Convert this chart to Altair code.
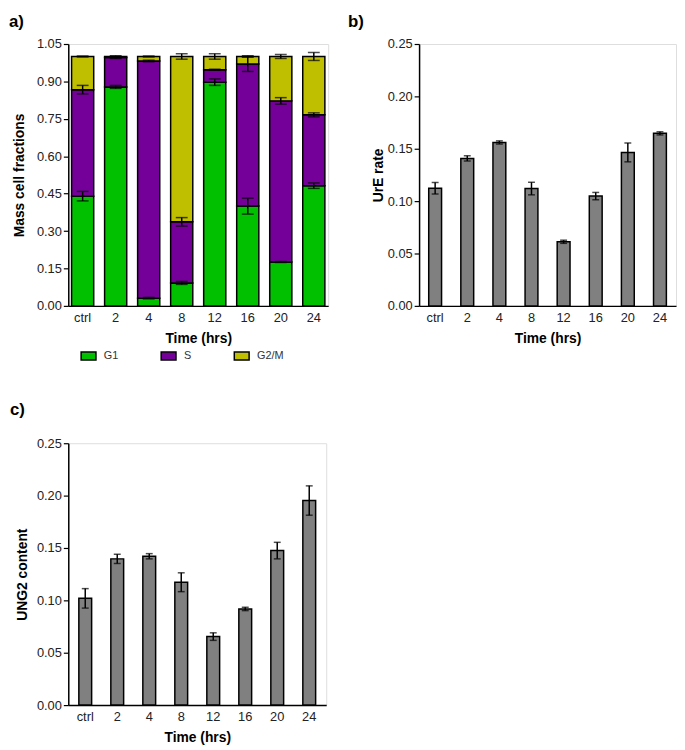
import altair as alt
import pandas as pd

times = ["ctrl", "2", "4", "8", "12", "16", "20", "24"]
phases = ["G1", "S", "G2/M"]
phase_colors = ["#00C000", "#740099", "#BFBF00"]

# panel a: mass cell fractions (stacked)
g1 = [0.440, 0.878, 0.031, 0.092, 0.897, 0.400, 0.176, 0.482]
s_ph = [0.427, 0.118, 0.951, 0.245, 0.050, 0.570, 0.646, 0.284]
g2m = [0.133, 0.004, 0.018, 0.663, 0.053, 0.030, 0.178, 0.234]
g1_err = [0.019, 0.006, 0.003, 0.006, 0.013, 0.032, 0.002, 0.011]
s_err = [0.017, 0.004, 0.003, 0.017, 0.002, 0.030, 0.013, 0.008]
g2m_err = [0.002, 0.003, 0.002, 0.011, 0.011, 0.003, 0.008, 0.016]

# panel b: UrE rate
ure = [0.1123, 0.1408, 0.1560, 0.1120, 0.0612, 0.1048, 0.1465, 0.1647]
ure_err = [0.0055, 0.0025, 0.0015, 0.0060, 0.0015, 0.0035, 0.0090, 0.0015]

# panel c: UNG2 content
ung2 = [0.1019, 0.1396, 0.1421, 0.1173, 0.0654, 0.0918, 0.1475, 0.1953]
ung2_err = [0.0093, 0.0044, 0.0025, 0.0090, 0.0036, 0.0016, 0.0079, 0.0140]

ya_ticks = [0, 0.15, 0.30, 0.45, 0.60, 0.75, 0.90, 1.05]
ybc_ticks = [0, 0.05, 0.10, 0.15, 0.20, 0.25]

FONT = "Liberation Sans"

rows = []
for i, t in enumerate(times):
    top = 0.0
    for k, (vals, errs) in enumerate([(g1, g1_err), (s_ph, s_err), (g2m, g2m_err)]):
        start = top
        top += vals[i]
        rows.append({"time": t, "phase": phases[k], "ord": k, "start": start, "end": top,
                     "lo": top - errs[i], "hi": top + errs[i]})
df_a = pd.DataFrame(rows)

def simple_df(vals, errs):
    return pd.DataFrame({"time": times, "value": vals,
                         "lo": [v - e for v, e in zip(vals, errs)],
                         "hi": [v + e for v, e in zip(vals, errs)]})

df_b = simple_df(ure, ure_err)
df_c = simple_df(ung2, ung2_err)

def x_axis():
    return alt.Axis(title="Time (hrs)", labelAngle=0, ticks=False, labelPadding=6,
                    titlePadding=7, domainColor="black", domainWidth=1.5,
                    labelFontSize=13, titleFontSize=14, titleFontWeight="bold",
                    labelColor="#222", titleColor="black", labelFont=FONT, titleFont=FONT)

def y_axis(title, values, tpad):
    return alt.Axis(title=title, values=values, format=".2f", grid=False,
                    labelOverlap=False, labelBound=False,
                    tickSize=5, tickColor="black", tickWidth=1.2, labelPadding=2,
                    domainColor="black", domainWidth=1.5, titlePadding=tpad,
                    labelFontSize=13, titleFontSize=14, titleFontWeight="bold",
                    labelColor="#222", titleColor="black", labelFont=FONT, titleFont=FONT)

def panel_label(txt, dx, dy):
    return alt.Chart(pd.DataFrame({"t": [txt]})).mark_text(
        align="left", baseline="top", fontSize=17, fontWeight="bold", font=FONT, color="black"
    ).encode(x=alt.value(dx), y=alt.value(dy), text="t:N")

# ---- panel a
ax_a = y_axis("Mass cell fractions", ya_ticks, 10)
sc_a = alt.Scale(domain=[0, 1.05], nice=False)
xa = alt.X("time:N", sort=times, scale=alt.Scale(paddingInner=0.33, paddingOuter=0.1), axis=x_axis())
bars_a = alt.Chart(df_a).mark_bar(stroke="black", strokeWidth=1.5).encode(
    x=xa,
    y=alt.Y("start:Q", scale=sc_a, axis=ax_a),
    y2="end:Q",
    color=alt.Color("phase:N", scale=alt.Scale(domain=phases, range=phase_colors),
                    legend=alt.Legend(title=None, orient="none", legendX=12, legendY=307,
                                      direction="horizontal", columnPadding=40, labelOffset=7,
                                      symbolType="M-1,-0.53H1V0.53H-1Z", symbolSize=225,
                                      symbolStrokeColor="black", symbolStrokeWidth=1.5,
                                      labelFontSize=11, labelFont=FONT, labelColor="#333",
                                      padding=0)),
)
rule_a = alt.Chart(df_a).mark_rule(color="black", strokeWidth=1.5).encode(
    x=alt.X("time:N", sort=times), y=alt.Y("lo:Q", scale=sc_a, axis=ax_a), y2="hi:Q")
caplo_a = alt.Chart(df_a).mark_tick(color="black", thickness=1.5, size=12).encode(
    x=alt.X("time:N", sort=times), y=alt.Y("lo:Q", scale=sc_a, axis=ax_a))
caphi_a = alt.Chart(df_a).mark_tick(color="black", thickness=1.5, size=12).encode(
    x=alt.X("time:N", sort=times), y=alt.Y("hi:Q", scale=sc_a, axis=ax_a))
chart_a = alt.layer(bars_a, rule_a, caplo_a, caphi_a, panel_label("a)", -60, -30)).properties(
    width=263, height=265)

# ---- panels b, c
def bar_panel(df, title, tpad, po, label, ldx, ldy):
    ax = y_axis(title, ybc_ticks, tpad)
    sc = alt.Scale(domain=[0, 0.25], nice=False)
    xb = alt.X("time:N", sort=times, scale=alt.Scale(paddingInner=0.6, paddingOuter=po), axis=x_axis())
    bars = alt.Chart(df).mark_bar(color="#808080", stroke="black", strokeWidth=1.5).encode(
        x=xb, y=alt.Y("value:Q", scale=sc, axis=ax))
    rule = alt.Chart(df).mark_rule(color="black", strokeWidth=1.5).encode(
        x=alt.X("time:N", sort=times), y=alt.Y("lo:Q", scale=sc, axis=ax), y2="hi:Q")
    clo = alt.Chart(df).mark_tick(color="black", thickness=1.5, size=7).encode(
        x=alt.X("time:N", sort=times), y=alt.Y("lo:Q", scale=sc, axis=ax))
    chi = alt.Chart(df).mark_tick(color="black", thickness=1.5, size=7).encode(
        x=alt.X("time:N", sort=times), y=alt.Y("hi:Q", scale=sc, axis=ax))
    return alt.layer(bars, rule, clo, chi, panel_label(label, ldx, ldy))

chart_b = bar_panel(df_b, "UrE rate", 2, 0.3, "b)", -72, -30).properties(width=260, height=265)
chart_c = bar_panel(df_c, "UNG2 content", 7, 0.33, "c)", -59, -42).properties(width=261, height=265)

top = alt.hconcat(chart_a, chart_b, spacing=18)
chart = alt.vconcat(top, chart_c, spacing=54).properties(padding=0).configure_view(
    stroke=None).configure_axis(labelOverlap=False).configure(font=FONT)

chart.save("out.html", embed_options={"renderer": "svg", "actions": False})
